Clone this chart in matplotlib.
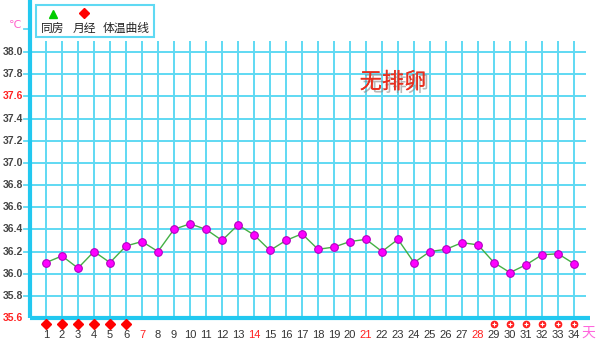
import matplotlib
matplotlib.use("Agg")
import matplotlib.pyplot as plt
import matplotlib.patheffects as pe
from matplotlib.lines import Line2D
from matplotlib.patches import Rectangle

days = list(range(1, 35))
temps = [36.10, 36.16, 36.05, 36.20, 36.10, 36.25, 36.29, 36.20, 36.40, 36.45,
         36.40, 36.30, 36.44, 36.35, 36.21, 36.30, 36.36, 36.22, 36.24, 36.29,
         36.31, 36.20, 36.31, 36.10, 36.20, 36.22, 36.28, 36.26, 36.10, 36.01,
         36.08, 36.17, 36.18, 36.09]
period_days = [1, 2, 3, 4, 5, 6]
period_days_next = [29, 30, 31, 32, 33, 34]
yticks = [35.6, 35.8, 36.0, 36.2, 36.4, 36.6, 36.8, 37.0, 37.2, 37.4, 37.6, 37.8, 38.0]
red_yticks = [35.6, 37.6]
red_days = [7, 14, 21, 28]
legend_labels = ["同房", "月经", "体温曲线"]
annotation = "无排卵"

plt.rcParams['font.family'] = ['Noto Sans CJK SC', 'DejaVu Sans']

W, H = 600, 343
fig = plt.figure(figsize=(6, 3.43), dpi=100)
fig.patch.set_facecolor('white')
ax = fig.add_axes([30 / W, (H - 318) / H, 560 / W, 277 / H])
ax.set_xlim(0, 35)
ax.set_ylim(35.6, 38.1)
for s in ax.spines.values():
    s.set_visible(False)
ax.set_xticks([])
ax.set_yticks([])

grid_c = '#5fd9f3'
# vertical grid
for d in days:
    ax.plot([d, d], [35.6, 38.1], color=grid_c, lw=1.4, zorder=1, solid_capstyle='butt')
# horizontal grid
for yv in yticks[1:]:
    ax.plot([0, 34.75], [yv, yv], color=grid_c, lw=1.4, zorder=1, solid_capstyle='butt')
# bottom thick axis
ax.plot([0, 35], [35.6, 35.6], color='#22c8f0', lw=3.0, zorder=2, clip_on=False,
        solid_capstyle='butt')
# left thick axis (full height of figure)
fig.add_artist(Line2D([30 / W, 30 / W], [(H - 318) / H, 1.0], color='#22c8f0', lw=3.0,
                      solid_capstyle='butt'))
# tick stubs on left
for yv in yticks[1:] + [38.21]:
    ax.plot([-0.37, 0], [yv, yv], color=grid_c, lw=1.3, clip_on=False, zorder=2)

# y tick labels
for yv in yticks:
    c = '#ff2020' if yv in red_yticks else '#444444'
    ax.text(-0.45, yv, f"{yv:.1f}", ha='right', va='center', fontsize=7.5,
            fontweight='bold', color=c, family='Liberation Sans')

# temperature curve
ax.plot(days, temps, color='#44b044', lw=1.0, zorder=3)
ax.plot(days, temps, 'o', ms=5.5, mfc='#ff00ff', mec='#b000c0', mew=0.8, zorder=4)

# x labels
trans = ax.get_xaxis_transform()
for d in days:
    c = '#ff2020' if d in red_days else '#333333'
    ax.text(d, -17 / 277, str(d), ha='center', va='center', fontsize=8,
            color=c, transform=trans, family='Liberation Sans')
ax.text(34.9, -15 / 277, "天", ha='center', va='center', fontsize=10,
        color='#ff66dd', transform=trans)

# period markers
ax.plot(period_days, [-5.5 / 277] * len(period_days), 'D', ms=5, color='#ff0000',
        transform=trans, clip_on=False, zorder=5)
ax.plot(period_days_next, [-5.5 / 277] * len(period_days_next), 'o', ms=4.5,
        mfc='#ff2020', mec='#ff2020', transform=trans, clip_on=False, zorder=5)
ax.plot(period_days_next, [-5.5 / 277] * len(period_days_next), '+', ms=3,
        mec='white', mew=0.8, transform=trans, clip_on=False, zorder=6)

# unit
fig.text(15 / W, 1 - 25 / H, "℃", ha='center', va='center', fontsize=8,
         color='#ff66cc', family='DejaVu Sans')

# legend box
fig.add_artist(Rectangle((36 / W, 1 - 37 / H), 118 / W, 32 / H, transform=fig.transFigure,
                         fill=True, facecolor='white', edgecolor='#5fd9f3', lw=1.5))
fig.add_artist(Line2D([53 / W], [1 - 14 / H], marker='^', ms=6, color='#00cc00', lw=0))
fig.add_artist(Line2D([84 / W], [1 - 13 / H], marker='D', ms=5, color='#ff0000', lw=0))
fig.text(53 / W, 1 - 28 / H, legend_labels[0], ha='center', va='center', fontsize=8.5, color='#222222')
fig.text(84 / W, 1 - 28 / H, legend_labels[1], ha='center', va='center', fontsize=8.5, color='#222222')
fig.text(126 / W, 1 - 28 / H, legend_labels[2], ha='center', va='center', fontsize=8.5, color='#222222')

# annotation
fig.text(393 / W, 1 - 82 / H, annotation, ha='center', va='center', fontsize=16,
         color='#e83020',
         path_effects=[pe.withSimplePatchShadow(offset=(2, -2), shadow_rgbFace='#888888', alpha=0.6),
                       pe.Normal()])

fig.savefig('out.png', dpi=100, facecolor='white')
